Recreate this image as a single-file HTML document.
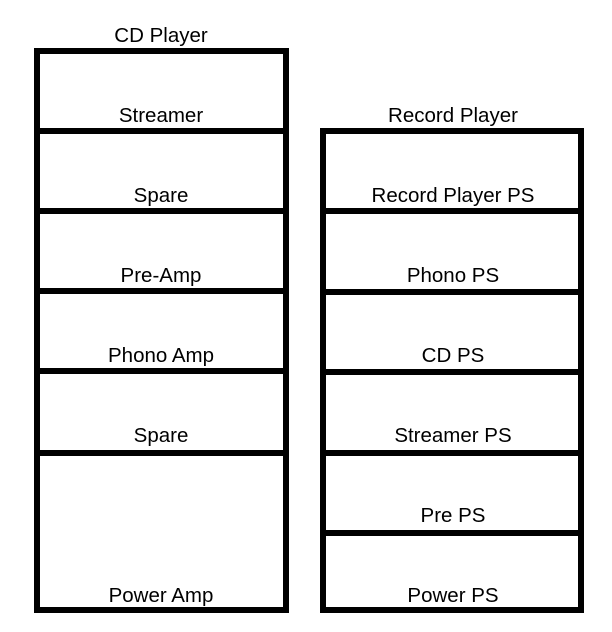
<!DOCTYPE html>
<html><head><style>html,body{margin:0;padding:0;background:#fff}</style></head><body>
<svg width="612" height="632" xmlns="http://www.w3.org/2000/svg" style="display:block">
<g fill="none" stroke="#000" stroke-width="6">
<rect x="37" y="51" width="249" height="559"/>
<line x1="37" y1="131" x2="286" y2="131"/>
<line x1="37" y1="211" x2="286" y2="211"/>
<line x1="37" y1="291" x2="286" y2="291"/>
<line x1="37" y1="371" x2="286" y2="371"/>
<line x1="37" y1="453" x2="286" y2="453"/>
<rect x="323" y="131" width="258" height="479"/>
<line x1="323" y1="211" x2="581" y2="211"/>
<line x1="323" y1="292" x2="581" y2="292"/>
<line x1="323" y1="372" x2="581" y2="372"/>
<line x1="323" y1="453" x2="581" y2="453"/>
<line x1="323" y1="533" x2="581" y2="533"/>
</g>
<g font-family="Liberation Sans, sans-serif" font-size="20.5" text-anchor="middle" fill="#000">
<text x="161" y="42">CD Player</text>
<text x="161" y="122">Streamer</text>
<text x="161" y="202">Spare</text>
<text x="161" y="282">Pre-Amp</text>
<text x="161" y="362">Phono Amp</text>
<text x="161" y="442">Spare</text>
<text x="161" y="602">Power Amp</text>
<text x="453" y="122">Record Player</text>
<text x="453" y="202">Record Player PS</text>
<text x="453" y="282">Phono PS</text>
<text x="453" y="362">CD PS</text>
<text x="453" y="442">Streamer PS</text>
<text x="453" y="522">Pre PS</text>
<text x="453" y="602">Power PS</text>
</g>
</svg>
</body></html>
